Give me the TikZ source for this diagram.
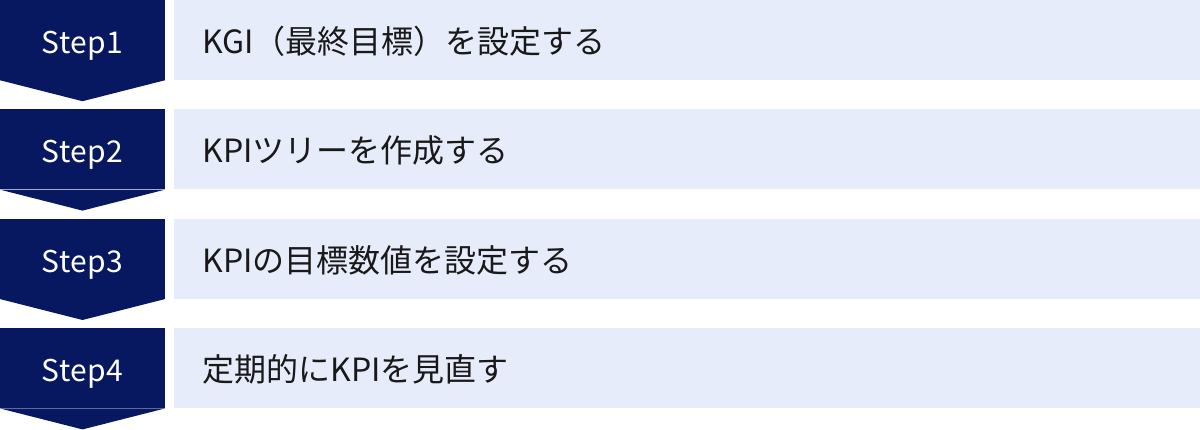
\documentclass[tikz,border=0pt]{standalone}
\usepackage{fontspec}
\setmainfont{Noto Sans CJK JP}
\usetikzlibrary{positioning}
\definecolor{stepnavy}{RGB}{7,24,96}
\definecolor{tasklight}{RGB}{230,236,249}

\begin{document}
\begin{tikzpicture}
[x=1pt, y=1pt, node distance=29pt,
% STYLES
% The stepbox style is used to draw the dark step labels
stepbox/.style={rectangle, fill=stepnavy, text=white, inner sep=0pt, minimum width=165pt, minimum height=80pt, text height=26.5pt, text depth=0pt, font=\fontsize{30}{34}\selectfont\addfontfeatures{LetterSpace=2}},
% The taskbox style is used to draw what each step does
taskbox/.style={rectangle, fill=tasklight, text=black!90, inner xsep=28pt, inner ysep=0pt, text width=970pt, minimum height=80pt, text height=27pt, text depth=0pt, align=left, font=\fontsize{32}{36}\selectfont},
% The tip style is used to draw the pointed end under each step
tip/.style={fill=stepnavy}]

\useasboundingbox (0,0) rectangle (1200,-429);

% Draw steps
\node [stepbox] (step1) at (82.5,-40) {Step1};
\node [stepbox, below=of step1] (step2) {Step2};
\node [stepbox, below=of step2] (step3) {Step3};
\node [stepbox, below=of step3] (step4) {Step4};

%%%%%%%%%%%%%%%
% Change data from here

% step1
\node [taskbox, right=9pt of step1] (task1) {KGI（最終目標）を設定する};

% step2
\node [taskbox, right=9pt of step2] (task2) {KPIツリーを作成する};

% step3
\node [taskbox, right=9pt of step3] (task3) {KPIの目標数値を設定する};

% step4
\node [taskbox, right=9pt of step4] (task4) {定期的にKPIを見直す};

%%%%%%%%%%%%%%%%

% Draw the tips under the steps
\foreach \s in {step1,step2,step3,step4}
  \fill [tip] (\s.south west) -- (\s.south east) -- ([yshift=-21pt]\s.south) -- cycle;

\end{tikzpicture}
\end{document}
